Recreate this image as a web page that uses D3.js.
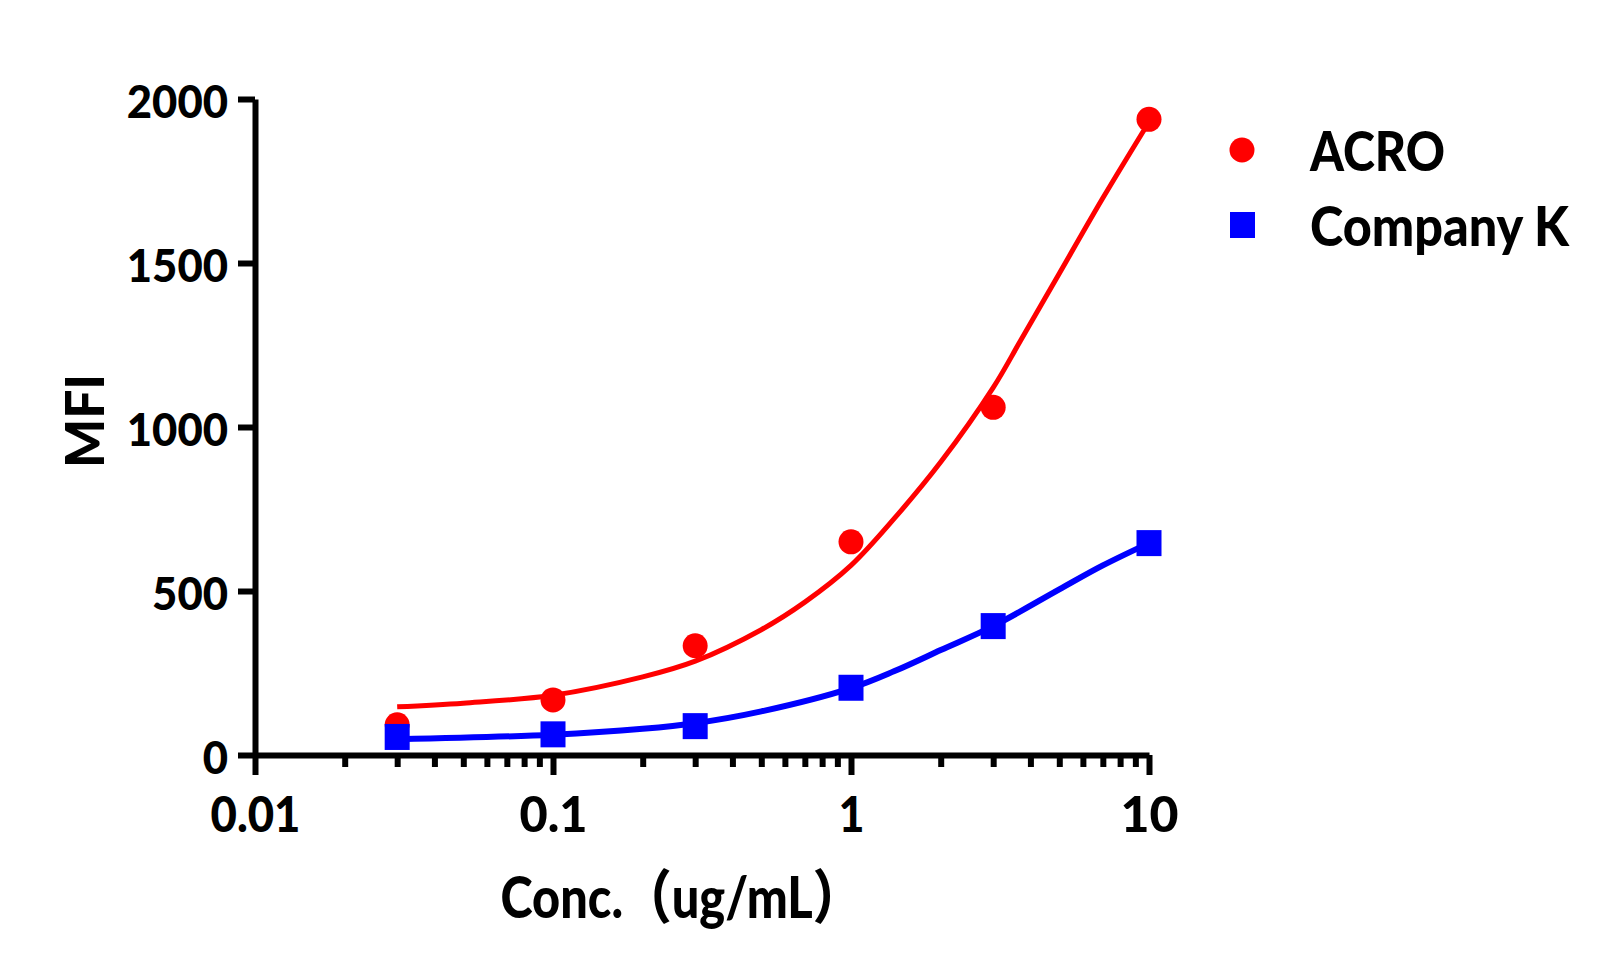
<!DOCTYPE html>
<html>
<head>
<meta charset="utf-8">
<script src="https://d3js.org/d3.v7.min.js"></script>
<style>
  body { margin: 0; background: #fff; }
  text { font-family: Lato, "Noto Sans CJK SC", sans-serif; font-weight: 900; fill: #000; }
</style>
</head>
<body>
<div id="chart"></div>
<script>
    // measured points
    const conc = [0.03, 0.1, 0.3, 1, 3, 10];
    const acro = [92, 168, 333, 650, 1060, 1938];
    const companyK = [55, 63, 88, 205, 393, 646];

    // fitted curves
    const acroFitConc = [0.03, 0.05, 0.1, 0.2, 0.3, 0.5, 0.7, 1, 1.4, 2, 3, 3.7, 5, 7, 10];
    const acroFit = [147, 158, 182, 238, 286, 382, 466, 578, 722, 893, 1120, 1262, 1468, 1698, 1930];
    const kFitConc = [0.03, 0.1, 0.2, 0.3, 0.5, 1, 1.4, 2, 3, 5, 7, 10];
    const kFit = [48, 62, 80, 97, 133, 204, 256, 320, 393, 505, 578, 646];

    const xTicks = [0.01, 0.1, 1, 10];
    const xTickLabels = ["0.01", "0.1", "1", "10"];
    const yTicks = [0, 500, 1000, 1500, 2000];

    const W = 1611, H = 980;

    const svg = d3.select("#chart")
        .append("svg")
            .attr("width", W)
            .attr("height", H);

    svg.append("rect").attr("width", W).attr("height", H).attr("fill", "#fff");

    const x = d3.scaleLog().domain([0.01, 10]).range([255, 1149]);
    const y = d3.scaleLinear().domain([0, 2000]).range([755, 99]);

    // minor x ticks
    let minor = [];
    [0.01, 0.1, 1].forEach(function(d) {
        for (let k = 2; k <= 9; k++) minor.push(+(d * k).toPrecision(3));
    });

    svg.append("g")
        .attr("transform", "translate(0,755)")
        .call(d3.axisBottom(x).tickValues(minor).tickSize(12).tickSizeOuter(0).tickFormat(""))
        .call(g => g.select(".domain").remove());

    // major x ticks
    const xAxis = svg.append("g")
        .attr("transform", "translate(0,755)")
        .call(d3.axisBottom(x).tickValues(xTicks).tickSize(20).tickSizeOuter(0)
            .tickFormat((d, i) => xTickLabels[i]));

    xAxis.selectAll("text")
        .attr("y", 77)
        .attr("dy", null)
        .style("font-size", "50px")
        .attr("textLength", (d, i) => [90, 68, 26, 58][i])
        .attr("lengthAdjust", "spacingAndGlyphs");

    // y axis
    const yAxis = svg.append("g")
        .attr("transform", "translate(255,0)")
        .call(d3.axisLeft(y).tickValues(yTicks).tickSize(17).tickSizeOuter(0).tickPadding(10)
            .tickFormat(d3.format("d")));

    yAxis.selectAll("text")
        .attr("dy", "0.4em")
        .style("font-size", "46px")
        .attr("textLength", d => String(d).length * 25.3)
        .attr("lengthAdjust", "spacingAndGlyphs");

    svg.selectAll(".tick line").attr("stroke", "#000").attr("stroke-width", 6);
    svg.selectAll(".domain").attr("stroke", "#000").attr("stroke-width", 6);

    // axis titles
    svg.append("text")
        .attr("text-anchor", "middle")
        .attr("transform", "translate(104,421) rotate(-90)")
        .style("font-size", "54px")
        .attr("textLength", 94)
        .attr("lengthAdjust", "spacingAndGlyphs")
        .text("MFI");

    svg.append("text")
        .attr("text-anchor", "middle")
        .attr("x", 681)
        .attr("y", 918)
        .style("font-size", "58px")
        .attr("textLength", 361)
        .attr("lengthAdjust", "spacingAndGlyphs")
        .text("Conc.（ug/mL）");

    // curves
    const line = d3.line()
        .x(d => x(d[0]))
        .y(d => y(d[1]))
        .curve(d3.curveCatmullRom.alpha(0.5));

    svg.append("path")
        .datum(acroFitConc.map((c, i) => [c, acroFit[i]]))
        .attr("d", line)
        .attr("fill", "none")
        .attr("stroke", "#ff0000")
        .attr("stroke-width", 5);

    svg.selectAll(".acro")
        .data(conc.map((c, i) => [c, acro[i]]))
        .enter()
        .append("circle")
            .attr("class", "acro")
            .attr("cx", d => x(d[0]))
            .attr("cy", d => y(d[1]))
            .attr("r", 12.5)
            .attr("fill", "#ff0000");

    svg.append("path")
        .datum(kFitConc.map((c, i) => [c, kFit[i]]))
        .attr("d", line)
        .attr("fill", "none")
        .attr("stroke", "#0000ff")
        .attr("stroke-width", 6);

    svg.selectAll(".compk")
        .data(conc.map((c, i) => [c, companyK[i]]))
        .enter()
        .append("rect")
            .attr("class", "compk")
            .attr("x", d => x(d[0]) - 12.5)
            .attr("y", d => y(d[1]) - 13)
            .attr("width", 25)
            .attr("height", 26)
            .attr("fill", "#0000ff");

    // legend
    const legend = svg.append("g");
    legend.append("circle")
        .attr("cx", 1242).attr("cy", 150).attr("r", 12.5)
        .attr("fill", "#ff0000");
    legend.append("rect")
        .attr("x", 1230).attr("y", 212).attr("width", 25).attr("height", 26)
        .attr("fill", "#0000ff");
    legend.append("text")
        .attr("x", 1310).attr("y", 171)
        .style("font-size", "56px")
        .attr("textLength", 135)
        .attr("lengthAdjust", "spacingAndGlyphs")
        .text("ACRO");
    legend.append("text")
        .attr("x", 1310).attr("y", 246)
        .style("font-size", "56px")
        .attr("textLength", 259)
        .attr("lengthAdjust", "spacingAndGlyphs")
        .text("Company K");
</script>
</body>
</html>
